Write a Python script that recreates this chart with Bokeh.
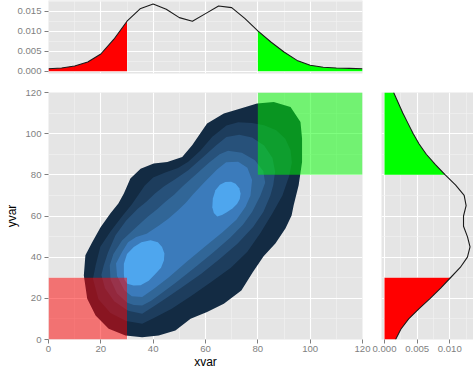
from bokeh.plotting import figure
from bokeh.layouts import row, column, Spacer
from bokeh.models import FixedTicker, NumeralTickFormatter, Range1d
from bokeh.embed import file_html
from bokeh.resources import INLINE

# ---------------- data ----------------
# marginal density of xvar (top panel)
xvar_grid = [0, 5, 10, 15, 20, 25, 30, 35, 40, 45, 50, 55, 60,
             65, 70, 75, 80, 85, 90, 95, 100, 105, 110, 115, 120]
xvar_density = [0.0006, 0.0008, 0.0013, 0.0023, 0.0043, 0.0080, 0.0125, 0.0156,
                0.0168, 0.0155, 0.0134, 0.0125, 0.0144, 0.0163, 0.0159, 0.0132,
                0.0101, 0.0073, 0.0048, 0.0027, 0.0015, 0.0010, 0.0008, 0.0007, 0.0006]

# marginal density of yvar (right panel)
yvar_grid = [0, 5, 10, 15, 20, 25, 30, 35, 40, 45, 50, 55, 60,
             65, 70, 75, 80, 85, 90, 95, 100, 105, 110, 115, 120]
yvar_density = [0.0017, 0.0025, 0.0037, 0.0053, 0.0070, 0.0086, 0.0101, 0.0116,
                0.0127, 0.0131, 0.0127, 0.0121, 0.0121, 0.0125, 0.0122, 0.0109,
                0.0093, 0.0078, 0.0064, 0.0053, 0.0044, 0.0036, 0.0028, 0.0021, 0.0014]

# highlighted regions
low_cut = 30
high_cut = 80
box_left = [0, 80]
box_right = [30, 120]
box_bottom = [0, 80]
box_top = [30, 120]
box_colors = ["#FF0000", "#00FF00"]

# 2-D density contour bands (outer -> inner), vertices in data units
level1_x = [13.5, 14.1, 16.7, 19.9, 23.7, 26.7, 28.8, 31.3, 35.2, 40.2, 45.4, 51.1, 54.9, 60.6,
            67.0, 73.4, 79.7, 86.1, 92.5, 96.3, 96.9, 96.9, 95.6, 93.7, 92.9, 90.6, 86.7, 82.2,
            78.0, 73.7, 67.0, 60.6, 54.3, 48.5, 42.1, 35.8, 29.4, 23.0, 18.0, 14.8]
level1_y = [31.1, 40.9, 47.3, 54.5, 61.3, 66.1, 70.9, 78.2, 83.0, 85.5, 86.2, 88.7, 94.4, 104.9,
            109.8, 112.2, 114.6, 115.4, 113.0, 105.7, 97.6, 86.2, 74.9, 65.2, 60.3, 54.0, 46.7, 40.4,
            32.6, 23.8, 17.4, 13.3, 10.1, 4.4, 1.9, 1.1, 1.9, 5.2, 11.7, 19.8]

level2_x = [29.7, 23.7, 19.1, 17.0, 18.0, 19.8, 23.7, 28.0, 31.8, 34.3, 36.8, 40.0, 44.6, 49.5,
            53.4, 58.0, 62.6, 68.0, 72.5, 77.8, 82.4, 87.0, 90.5, 92.5, 93.0, 92.0, 89.4, 85.6,
            81.0, 76.0, 69.7, 62.3, 54.8, 47.1, 40.3, 35.8]
level2_y = [9.0, 12.9, 19.6, 29.5, 36.0, 45.1, 52.5, 59.6, 65.6, 70.2, 74.8, 78.7, 81.1, 83.3,
            86.4, 91.7, 98.5, 104.0, 105.5, 105.2, 104.1, 101.6, 97.5, 92.0, 86.0, 79.5, 70.0, 61.3,
            51.8, 42.6, 34.8, 28.1, 21.4, 15.0, 10.4, 7.6]

level3_x = [30.4, 25.1, 21.6, 20.2, 21.1, 22.7, 25.6, 29.7, 34.0, 37.5, 40.7, 44.2, 48.1, 53.4,
            58.7, 64.0, 68.0, 72.9, 77.8, 82.4, 85.6, 86.6, 85.9, 84.8, 82.1, 78.2, 72.2, 65.4,
            58.4, 50.9, 44.9, 40.3, 35.8]
level3_y = [14.0, 18.6, 24.9, 31.3, 36.0, 42.2, 50.6, 57.8, 63.4, 67.0, 70.9, 74.4, 77.6, 82.2,
            88.2, 94.2, 98.4, 99.5, 98.1, 94.2, 88.2, 81.5, 75.1, 70.0, 62.0, 54.6, 46.5, 39.1,
            32.0, 25.3, 20.0, 16.1, 12.5]

level4_x = [30.1, 26.2, 23.7, 23.4, 24.8, 28.1, 33.3, 37.9, 41.4, 44.8, 48.1, 51.3, 55.9, 61.2,
            65.4, 68.6, 73.9, 78.9, 82.1, 82.8, 81.0, 77.8, 74.3, 69.3, 62.6, 55.7, 48.6, 42.8,
            39.1, 35.8, 32.6]
level4_y = [17.9, 22.4, 29.2, 35.9, 41.5, 48.1, 54.3, 59.6, 63.1, 67.0, 70.5, 74.4, 79.7, 85.7,
            90.0, 91.7, 90.7, 87.1, 81.8, 76.2, 70.0, 62.0, 55.7, 49.3, 41.9, 34.7, 27.6, 22.1,
            18.7, 16.5, 16.8]

level5_x = [29.0, 26.2, 25.8, 28.1, 30.4, 33.5, 37.5, 42.1, 45.8, 49.2, 52.4, 55.2, 59.4, 64.4,
            67.9, 72.5, 76.0, 77.8, 77.2, 75.3, 71.8, 66.5, 59.6, 52.7, 46.0, 40.3, 35.8, 31.8]
level5_y = [23.9, 30.9, 36.9, 42.5, 47.2, 49.8, 51.4, 55.3, 58.7, 62.4, 66.3, 70.5, 76.2, 82.6,
            86.1, 86.4, 83.5, 77.5, 70.0, 64.5, 58.2, 52.1, 44.9, 37.7, 30.2, 24.6, 20.6, 21.0]

level6a_x = [28.8, 30.0, 32.6, 35.5, 39.0, 41.8, 43.4, 44.3, 44.1, 43.0, 40.9, 38.3, 35.2,
             32.5, 30.1, 29.0, 28.8]
level6a_y = [36.8, 41.5, 44.9, 47.3, 48.2, 47.2, 44.9, 41.8, 38.4, 34.8, 32.0, 28.5, 26.3,
             26.2, 27.1, 29.2, 32.0]

level6b_x = [62.6, 62.8, 63.8, 65.5, 67.6, 69.8, 71.5, 72.9, 73.4, 73.1, 72.1, 70.3, 68.3,
             66.3, 64.5, 63.2]
level6b_y = [64.3, 68.5, 72.5, 75.2, 76.5, 76.6, 75.7, 73.5, 70.9, 68.2, 66.0, 63.6, 61.9,
             60.5, 59.8, 61.5]

level_colors = ["#132B43", "#1D3D5D", "#27517A", "#316697", "#3B7BBB", "#4EA6EE", "#4EA6EE"]

x_major = [0, 20, 40, 60, 80, 100, 120]
x_minor = [10, 30, 50, 70, 90, 110]
y_major = [0, 20, 40, 60, 80, 100, 120]
y_minor = [10, 30, 50, 70, 90, 110]
dens_top_major = [0.0, 0.005, 0.010, 0.015]
dens_top_minor = [0.0025, 0.0075, 0.0125, 0.0175]
dens_right_major = [0.0, 0.005, 0.010]
dens_right_minor = [0.0025, 0.0075, 0.0125]

# ---------------- styling helpers ----------------
PANEL = "#E5E5E5"
TICK_GREY = "#7F7F7F"
FONT = "Liberation Sans"


def base_fig(**kw):
    p = figure(output_backend="svg", toolbar_location=None,
               background_fill_color=PANEL, border_fill_color="white",
               outline_line_color=None, **kw)
    return p


def style_axes(p):
    for ax in p.axis:
        ax.axis_line_color = None
        ax.major_tick_line_color = TICK_GREY
        ax.major_tick_out = 4
        ax.major_tick_in = 0
        ax.minor_tick_line_color = None
        ax.major_label_text_color = TICK_GREY
        ax.major_label_text_font = FONT
        ax.major_label_text_font_size = "9.6px"
        ax.major_label_standoff = 3
        ax.axis_label_text_font = FONT
        ax.axis_label_text_font_size = "12px"
        ax.axis_label_text_font_style = "normal"
        ax.axis_label_text_color = "black"
        ax.axis_label_standoff = 3
    for g in p.grid:
        g.grid_line_color = "white"
        g.grid_line_width = 1.1
        g.minor_grid_line_color = "#F2F2F2"
        g.minor_grid_line_width = 0.6


# ---------------- top marginal ----------------
top = base_fig(frame_width=314, frame_height=73,
               x_range=Range1d(0, 120), y_range=Range1d(-0.000575, 0.01768),
               min_border_left=48, min_border_right=10, min_border_top=0, min_border_bottom=10)
top.xaxis.ticker = FixedTicker(ticks=x_major, minor_ticks=x_minor)
top.yaxis.ticker = FixedTicker(ticks=dens_top_major, minor_ticks=dens_top_minor)
top.yaxis.formatter = NumeralTickFormatter(format="0.000")
style_axes(top)
top.xaxis.visible = False

n_low = xvar_grid.index(low_cut) + 1
n_high = xvar_grid.index(high_cut)
top.varea(x=xvar_grid[:n_low], y1=0, y2=xvar_density[:n_low], fill_color="#FF0000")
top.varea(x=xvar_grid[n_high:], y1=0, y2=xvar_density[n_high:], fill_color="#00FF00")
top.line(xvar_grid, xvar_density, line_color="#1a1a1a", line_width=1.1)

# ---------------- main panel ----------------
main = base_fig(frame_width=314, frame_height=247,
                x_range=Range1d(0, 120), y_range=Range1d(0, 120),
                min_border_left=48, min_border_right=10, min_border_top=9)
main.xaxis.ticker = FixedTicker(ticks=x_major, minor_ticks=x_minor)
main.yaxis.ticker = FixedTicker(ticks=y_major, minor_ticks=y_minor)
main.xaxis.axis_label = "xvar"
main.yaxis.axis_label = "yvar"
style_axes(main)
main.xaxis.major_label_standoff = 2
main.xaxis.axis_label_standoff = 0

main.patches(xs=[level1_x, level2_x, level3_x, level4_x, level5_x, level6a_x, level6b_x],
             ys=[level1_y, level2_y, level3_y, level4_y, level5_y, level6a_y, level6b_y],
             fill_color=level_colors, line_color=None)
main.quad(left=box_left, right=box_right, bottom=box_bottom, top=box_top,
          fill_color=box_colors, fill_alpha=0.5, line_color=None)

# ---------------- right marginal ----------------
right = base_fig(frame_width=92, frame_height=247,
                 x_range=Range1d(-0.00046, 0.01363), y_range=Range1d(0, 120),
                 min_border_left=9, min_border_right=0, min_border_top=9)
right.xaxis.ticker = FixedTicker(ticks=dens_right_major, minor_ticks=dens_right_minor)
right.yaxis.ticker = FixedTicker(ticks=y_major, minor_ticks=y_minor)
right.xaxis.formatter = NumeralTickFormatter(format="0.000")
style_axes(right)
right.xaxis.major_label_standoff = 2
right.yaxis.visible = False

m_low = yvar_grid.index(low_cut) + 1
m_high = yvar_grid.index(high_cut)
right.harea(y=yvar_grid[:m_low], x1=0, x2=yvar_density[:m_low], fill_color="#FF0000")
right.harea(y=yvar_grid[m_high:], x1=0, x2=yvar_density[m_high:], fill_color="#00FF00")
right.line(yvar_density, yvar_grid, line_color="#1a1a1a", line_width=1.1)

layout = row(column(top, main), column(Spacer(width=101, height=83), right))

open("out.html", "w").write(file_html(layout, INLINE))
